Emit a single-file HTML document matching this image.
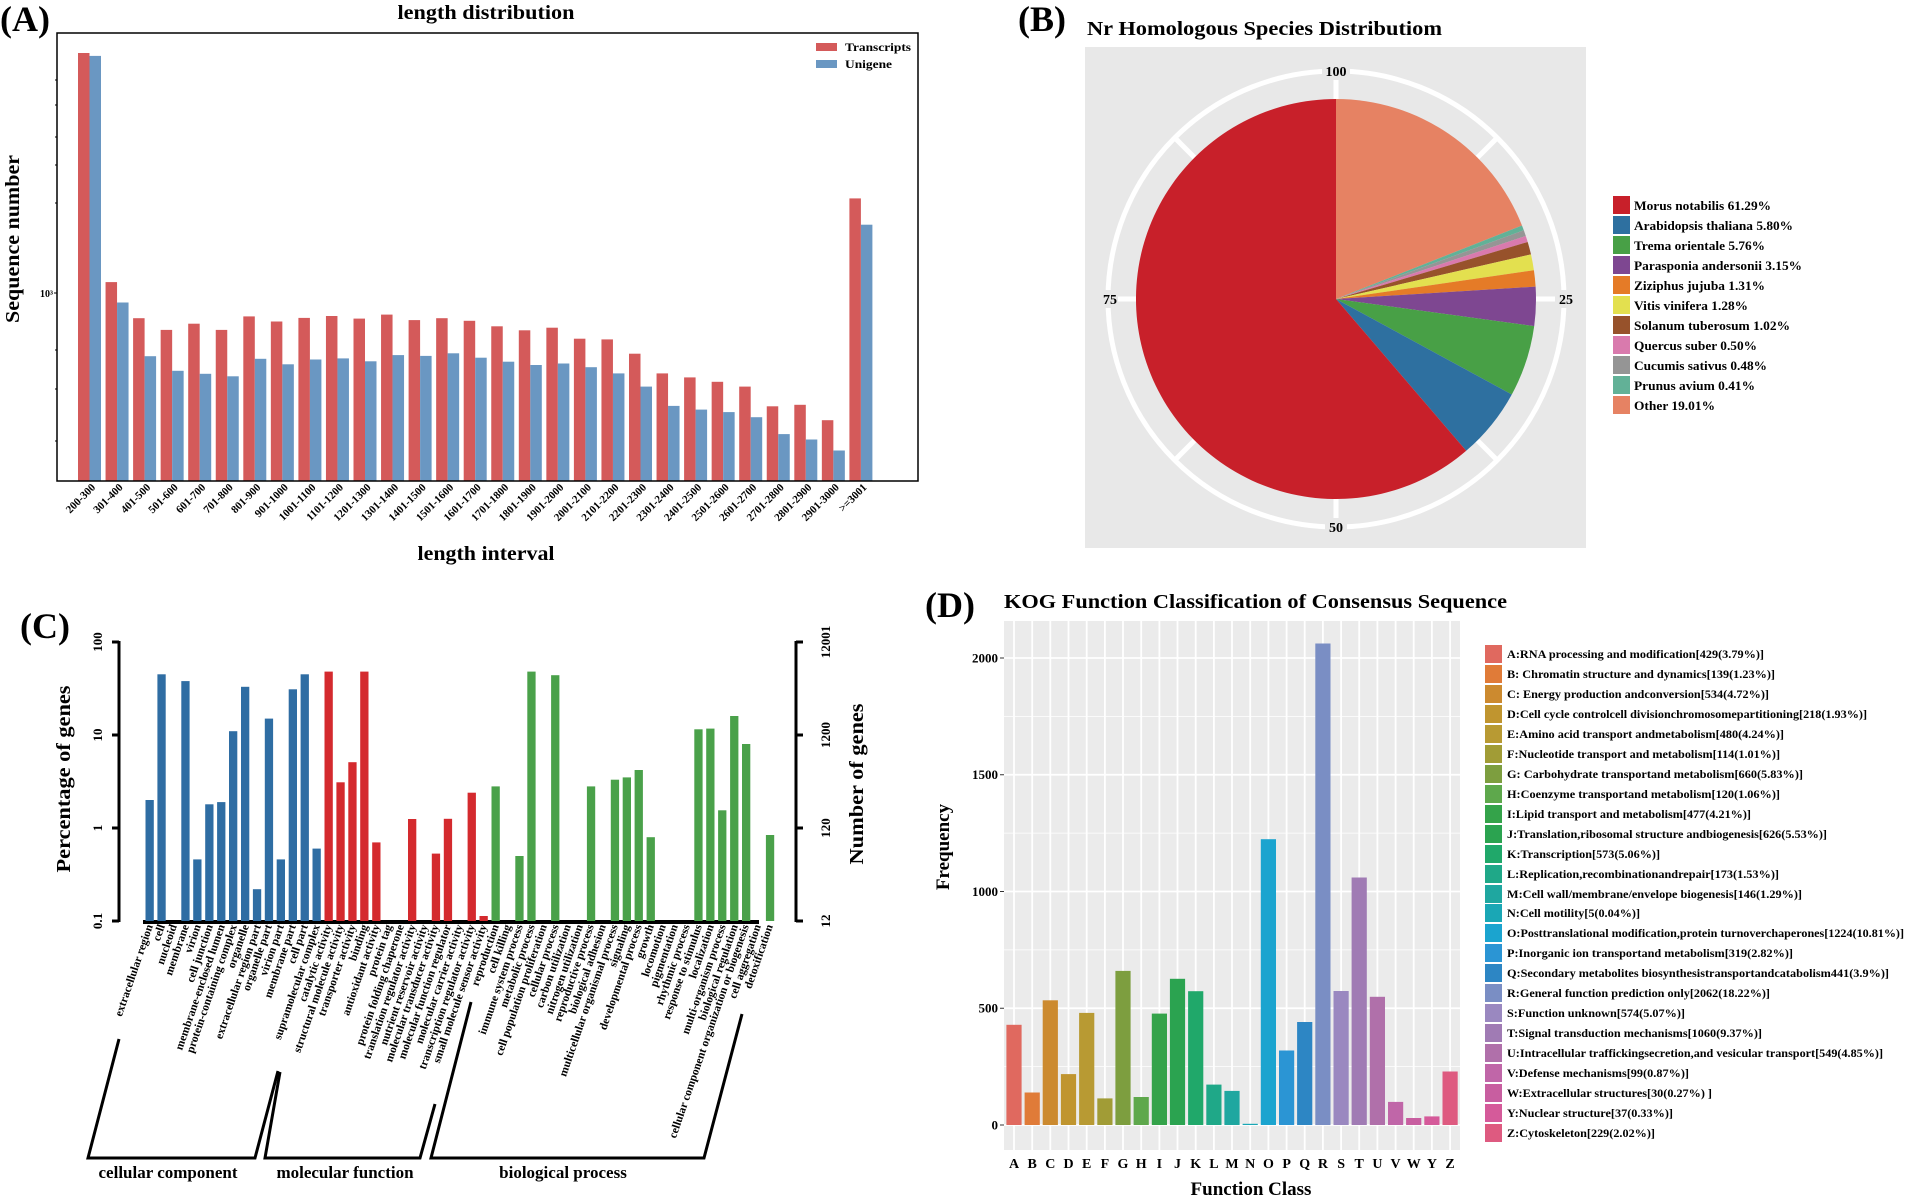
<!DOCTYPE html>
<html><head><meta charset="utf-8"><style>
html,body{margin:0;padding:0;background:#fff}
svg{display:block}
text{font-family:"Liberation Serif",serif;font-weight:bold;fill:#000}
</style></head><body>
<svg width="1905" height="1197" viewBox="0 0 1905 1197" xmlns="http://www.w3.org/2000/svg">
<!-- ================= PANEL A ================= -->
<text x="0" y="31" font-size="36">(A)</text>
<text x="486" y="19" font-size="20" text-anchor="middle" textLength="177" lengthAdjust="spacingAndGlyphs">length distribution</text>
<g>
<g transform="translate(78,0)"><rect x="0" y="53" width="11.5" height="428" fill="#d45a5a"/><rect x="11.5" y="55.9" width="11.5" height="425.1" fill="#6a97c2"/></g>
<g transform="translate(105.55,0)"><rect x="0" y="282.1" width="11.5" height="198.9" fill="#d45a5a"/><rect x="11.5" y="302.5" width="11.5" height="178.5" fill="#6a97c2"/></g>
<g transform="translate(133.1,0)"><rect x="0" y="318.2" width="11.5" height="162.8" fill="#d45a5a"/><rect x="11.5" y="356.2" width="11.5" height="124.8" fill="#6a97c2"/></g>
<g transform="translate(160.65,0)"><rect x="0" y="329.9" width="11.5" height="151.1" fill="#d45a5a"/><rect x="11.5" y="370.8" width="11.5" height="110.2" fill="#6a97c2"/></g>
<g transform="translate(188.2,0)"><rect x="0" y="323.7" width="11.5" height="157.3" fill="#d45a5a"/><rect x="11.5" y="373.8" width="11.5" height="107.2" fill="#6a97c2"/></g>
<g transform="translate(215.75,0)"><rect x="0" y="329.9" width="11.5" height="151.1" fill="#d45a5a"/><rect x="11.5" y="376.3" width="11.5" height="104.7" fill="#6a97c2"/></g>
<g transform="translate(243.3,0)"><rect x="0" y="316.4" width="11.5" height="164.6" fill="#d45a5a"/><rect x="11.5" y="358.8" width="11.5" height="122.2" fill="#6a97c2"/></g>
<g transform="translate(270.85,0)"><rect x="0" y="321.5" width="11.5" height="159.5" fill="#d45a5a"/><rect x="11.5" y="364.3" width="11.5" height="116.7" fill="#6a97c2"/></g>
<g transform="translate(298.4,0)"><rect x="0" y="317.9" width="11.5" height="163.1" fill="#d45a5a"/><rect x="11.5" y="359.5" width="11.5" height="121.5" fill="#6a97c2"/></g>
<g transform="translate(325.95,0)"><rect x="0" y="316" width="11.5" height="165" fill="#d45a5a"/><rect x="11.5" y="358.4" width="11.5" height="122.6" fill="#6a97c2"/></g>
<g transform="translate(353.5,0)"><rect x="0" y="318.6" width="11.5" height="162.4" fill="#d45a5a"/><rect x="11.5" y="361.3" width="11.5" height="119.7" fill="#6a97c2"/></g>
<g transform="translate(381.05,0)"><rect x="0" y="314.6" width="11.5" height="166.4" fill="#d45a5a"/><rect x="11.5" y="355.1" width="11.5" height="125.9" fill="#6a97c2"/></g>
<g transform="translate(408.6,0)"><rect x="0" y="320.1" width="11.5" height="160.9" fill="#d45a5a"/><rect x="11.5" y="355.9" width="11.5" height="125.1" fill="#6a97c2"/></g>
<g transform="translate(436.15,0)"><rect x="0" y="318.2" width="11.5" height="162.8" fill="#d45a5a"/><rect x="11.5" y="353.3" width="11.5" height="127.7" fill="#6a97c2"/></g>
<g transform="translate(463.7,0)"><rect x="0" y="320.8" width="11.5" height="160.2" fill="#d45a5a"/><rect x="11.5" y="357.7" width="11.5" height="123.3" fill="#6a97c2"/></g>
<g transform="translate(491.25,0)"><rect x="0" y="326.3" width="11.5" height="154.7" fill="#d45a5a"/><rect x="11.5" y="361.7" width="11.5" height="119.3" fill="#6a97c2"/></g>
<g transform="translate(518.8,0)"><rect x="0" y="330.3" width="11.5" height="150.7" fill="#d45a5a"/><rect x="11.5" y="365" width="11.5" height="116" fill="#6a97c2"/></g>
<g transform="translate(546.35,0)"><rect x="0" y="327.7" width="11.5" height="153.3" fill="#d45a5a"/><rect x="11.5" y="363.5" width="11.5" height="117.5" fill="#6a97c2"/></g>
<g transform="translate(573.9,0)"><rect x="0" y="338.7" width="11.5" height="142.3" fill="#d45a5a"/><rect x="11.5" y="367.2" width="11.5" height="113.8" fill="#6a97c2"/></g>
<g transform="translate(601.45,0)"><rect x="0" y="339.4" width="11.5" height="141.6" fill="#d45a5a"/><rect x="11.5" y="373.4" width="11.5" height="107.6" fill="#6a97c2"/></g>
<g transform="translate(629,0)"><rect x="0" y="353.7" width="11.5" height="127.3" fill="#d45a5a"/><rect x="11.5" y="386.6" width="11.5" height="94.4" fill="#6a97c2"/></g>
<g transform="translate(656.55,0)"><rect x="0" y="373.4" width="11.5" height="107.6" fill="#d45a5a"/><rect x="11.5" y="405.9" width="11.5" height="75.1" fill="#6a97c2"/></g>
<g transform="translate(684.1,0)"><rect x="0" y="377.4" width="11.5" height="103.6" fill="#d45a5a"/><rect x="11.5" y="409.6" width="11.5" height="71.4" fill="#6a97c2"/></g>
<g transform="translate(711.65,0)"><rect x="0" y="381.8" width="11.5" height="99.2" fill="#d45a5a"/><rect x="11.5" y="412.1" width="11.5" height="68.9" fill="#6a97c2"/></g>
<g transform="translate(739.2,0)"><rect x="0" y="386.6" width="11.5" height="94.4" fill="#d45a5a"/><rect x="11.5" y="417.2" width="11.5" height="63.8" fill="#6a97c2"/></g>
<g transform="translate(766.75,0)"><rect x="0" y="406.3" width="11.5" height="74.7" fill="#d45a5a"/><rect x="11.5" y="434.1" width="11.5" height="46.9" fill="#6a97c2"/></g>
<g transform="translate(794.3,0)"><rect x="0" y="404.8" width="11.5" height="76.2" fill="#d45a5a"/><rect x="11.5" y="439.5" width="11.5" height="41.5" fill="#6a97c2"/></g>
<g transform="translate(821.85,0)"><rect x="0" y="420.2" width="11.5" height="60.8" fill="#d45a5a"/><rect x="11.5" y="450.5" width="11.5" height="30.5" fill="#6a97c2"/></g>
<g transform="translate(849.4,0)"><rect x="0" y="198.4" width="11.5" height="282.6" fill="#d45a5a"/><rect x="11.5" y="224.7" width="11.5" height="256.3" fill="#6a97c2"/></g>
</g>
<rect x="57" y="33" width="861" height="448" fill="none" stroke="#000" stroke-width="1.5"/>
<g stroke="#000" stroke-width="1">
<line x1="54" y1="293" x2="57" y2="293"/><line x1="55" y1="80" x2="57" y2="80"/><line x1="55" y1="105" x2="57" y2="105"/><line x1="55" y1="137" x2="57" y2="137"/><line x1="55" y1="165" x2="57" y2="165"/><line x1="55" y1="203" x2="57" y2="203"/><line x1="55" y1="350" x2="57" y2="350"/><line x1="55" y1="389" x2="57" y2="389"/><line x1="55" y1="441" x2="57" y2="441"/>
</g>
<text x="53" y="297" font-size="10" text-anchor="end">10³</text>
<text transform="translate(19,239) rotate(-90)" font-size="20" text-anchor="middle" textLength="168" lengthAdjust="spacingAndGlyphs">Sequence number</text>
<text x="486" y="560" font-size="20" text-anchor="middle" textLength="137" lengthAdjust="spacingAndGlyphs">length interval</text>
<rect x="816" y="43" width="21" height="8" fill="#d45a5a"/><text x="845" y="51" font-size="12" textLength="66" lengthAdjust="spacingAndGlyphs">Transcripts</text>
<rect x="816" y="60" width="21" height="8" fill="#6a97c2"/><text x="845" y="68" font-size="12" textLength="47" lengthAdjust="spacingAndGlyphs">Unigene</text>
<g font-size="11">
<text transform="translate(96,488) rotate(-45)" text-anchor="end">200-300</text>
<text transform="translate(123.5,488) rotate(-45)" text-anchor="end">301-400</text>
<text transform="translate(151.1,488) rotate(-45)" text-anchor="end">401-500</text>
<text transform="translate(178.6,488) rotate(-45)" text-anchor="end">501-600</text>
<text transform="translate(206.2,488) rotate(-45)" text-anchor="end">601-700</text>
<text transform="translate(233.7,488) rotate(-45)" text-anchor="end">701-800</text>
<text transform="translate(261.3,488) rotate(-45)" text-anchor="end">801-900</text>
<text transform="translate(288.8,488) rotate(-45)" text-anchor="end">901-1000</text>
<text transform="translate(316.4,488) rotate(-45)" text-anchor="end">1001-1100</text>
<text transform="translate(343.9,488) rotate(-45)" text-anchor="end">1101-1200</text>
<text transform="translate(371.5,488) rotate(-45)" text-anchor="end">1201-1300</text>
<text transform="translate(399,488) rotate(-45)" text-anchor="end">1301-1400</text>
<text transform="translate(426.6,488) rotate(-45)" text-anchor="end">1401-1500</text>
<text transform="translate(454.1,488) rotate(-45)" text-anchor="end">1501-1600</text>
<text transform="translate(481.7,488) rotate(-45)" text-anchor="end">1601-1700</text>
<text transform="translate(509.2,488) rotate(-45)" text-anchor="end">1701-1800</text>
<text transform="translate(536.8,488) rotate(-45)" text-anchor="end">1801-1900</text>
<text transform="translate(564.3,488) rotate(-45)" text-anchor="end">1901-2000</text>
<text transform="translate(591.9,488) rotate(-45)" text-anchor="end">2001-2100</text>
<text transform="translate(619.4,488) rotate(-45)" text-anchor="end">2101-2200</text>
<text transform="translate(647,488) rotate(-45)" text-anchor="end">2201-2300</text>
<text transform="translate(674.5,488) rotate(-45)" text-anchor="end">2301-2400</text>
<text transform="translate(702.1,488) rotate(-45)" text-anchor="end">2401-2500</text>
<text transform="translate(729.6,488) rotate(-45)" text-anchor="end">2501-2600</text>
<text transform="translate(757.2,488) rotate(-45)" text-anchor="end">2601-2700</text>
<text transform="translate(784.7,488) rotate(-45)" text-anchor="end">2701-2800</text>
<text transform="translate(812.3,488) rotate(-45)" text-anchor="end">2801-2900</text>
<text transform="translate(839.8,488) rotate(-45)" text-anchor="end">2901-3000</text>
<text transform="translate(867.4,488) rotate(-45)" text-anchor="end">&gt;=3001</text>
</g>

<!-- ================= PANEL B ================= -->
<text x="1018" y="31" font-size="36">(B)</text>
<text x="1087" y="35" font-size="20" textLength="355" lengthAdjust="spacingAndGlyphs">Nr Homologous Species Distributiom</text>
<rect x="1085" y="47" width="501" height="501" fill="#e8e8e8"/>
<circle cx="1336" cy="299" r="228" fill="none" stroke="#fff" stroke-width="5"/>
<g stroke="#fff" stroke-width="5">
<line x1="1477.4" y1="157.6" x2="1497.2" y2="137.8"/><line x1="1477.4" y1="440.4" x2="1497.2" y2="460.2"/>
<line x1="1194.6" y1="440.4" x2="1174.8" y2="460.2"/><line x1="1194.6" y1="157.6" x2="1174.8" y2="137.8"/>
<line x1="1336" y1="99" x2="1336" y2="80"/><line x1="1336" y1="499" x2="1336" y2="518"/>
<line x1="1136" y1="299" x2="1118" y2="299"/><line x1="1536" y1="299" x2="1555" y2="299"/>
</g>
<g fill="#e8e8e8"><rect x="1322" y="61" width="28" height="17"/><rect x="1325" y="518" width="22" height="17"/><rect x="1100" y="290" width="18" height="18"/><rect x="1555" y="290" width="20" height="18"/></g>
<g font-size="14" text-anchor="middle">
<text x="1336" y="76">100</text><text x="1336" y="532">50</text><text x="1110" y="304">75</text><text x="1566" y="304">25</text>
</g>
<g stroke="none">
<path d="M1336,299 L1336,99 A200,200 0 0 1 1522,225.5 Z" fill="#e68263"/>
<path d="M1336,299 L1522,225.5 A200,200 0 0 1 1523.8,230.3 Z" fill="#62b197"/>
<path d="M1336,299 L1523.8,230.3 A200,200 0 0 1 1525.8,236 Z" fill="#959595"/>
<path d="M1336,299 L1525.8,236 A200,200 0 0 1 1527.7,242 Z" fill="#d97aad"/>
<path d="M1336,299 L1527.7,242 A200,200 0 0 1 1531,254.4 Z" fill="#97522b"/>
<path d="M1336,299 L1531,254.4 A200,200 0 0 1 1533.9,270.2 Z" fill="#e3e04f"/>
<path d="M1336,299 L1533.9,270.2 A200,200 0 0 1 1535.6,286.6 Z" fill="#e57b27"/>
<path d="M1336,299 L1535.6,286.6 A200,200 0 0 1 1534.2,326.1 Z" fill="#7e4791"/>
<path d="M1336,299 L1534.2,326.1 A200,200 0 0 1 1511.8,394.5 Z" fill="#48a046"/>
<path d="M1336,299 L1511.8,394.5 A200,200 0 0 1 1466.2,450.8 Z" fill="#2e70a0"/>
<path d="M1336,299 L1466.2,450.8 A200,200 0 1 1 1336,99 Z" fill="#c8202a"/>
</g>
<g font-size="13">
<rect x="1613" y="196" width="17" height="18" fill="#c8202a"/><text x="1634" y="210" textLength="137" lengthAdjust="spacingAndGlyphs">Morus notabilis 61.29%</text>
<rect x="1613" y="216" width="17" height="18" fill="#2e70a0"/><text x="1634" y="230" textLength="159" lengthAdjust="spacingAndGlyphs">Arabidopsis thaliana 5.80%</text>
<rect x="1613" y="236" width="17" height="18" fill="#48a046"/><text x="1634" y="250" textLength="131" lengthAdjust="spacingAndGlyphs">Trema orientale 5.76%</text>
<rect x="1613" y="256" width="17" height="18" fill="#7e4791"/><text x="1634" y="270" textLength="168" lengthAdjust="spacingAndGlyphs">Parasponia andersonii 3.15%</text>
<rect x="1613" y="276" width="17" height="18" fill="#e57b27"/><text x="1634" y="290" textLength="131" lengthAdjust="spacingAndGlyphs">Ziziphus jujuba 1.31%</text>
<rect x="1613" y="296" width="17" height="18" fill="#e3e04f"/><text x="1634" y="310" textLength="114" lengthAdjust="spacingAndGlyphs">Vitis vinifera 1.28%</text>
<rect x="1613" y="316" width="17" height="18" fill="#97522b"/><text x="1634" y="330" textLength="156" lengthAdjust="spacingAndGlyphs">Solanum tuberosum 1.02%</text>
<rect x="1613" y="336" width="17" height="18" fill="#d97aad"/><text x="1634" y="350" textLength="123" lengthAdjust="spacingAndGlyphs">Quercus suber 0.50%</text>
<rect x="1613" y="356" width="17" height="18" fill="#959595"/><text x="1634" y="370" textLength="133" lengthAdjust="spacingAndGlyphs">Cucumis sativus 0.48%</text>
<rect x="1613" y="376" width="17" height="18" fill="#62b197"/><text x="1634" y="390" textLength="121" lengthAdjust="spacingAndGlyphs">Prunus avium 0.41%</text>
<rect x="1613" y="396" width="17" height="18" fill="#e68263"/><text x="1634" y="410" textLength="81" lengthAdjust="spacingAndGlyphs">Other 19.01%</text>
</g>

<!-- ================= PANEL C ================= -->
<text x="20" y="638" font-size="36">(C)</text>
<g stroke="#000" stroke-width="3" fill="none">
<line x1="119" y1="641" x2="119" y2="922"/>
<line x1="112" y1="642" x2="119" y2="642"/><line x1="112" y1="735" x2="119" y2="735"/><line x1="112" y1="828" x2="119" y2="828"/><line x1="112" y1="921" x2="119" y2="921"/>
<line x1="796" y1="641" x2="796" y2="922"/>
<line x1="796" y1="642" x2="803" y2="642"/><line x1="796" y1="735" x2="803" y2="735"/><line x1="796" y1="828" x2="803" y2="828"/><line x1="796" y1="921" x2="803" y2="921"/>
<line x1="143" y1="922" x2="759" y2="922" stroke-width="4"/>
</g>
<g font-size="13" text-anchor="middle">
<text transform="translate(102,642) rotate(-90)">100</text><text transform="translate(102,735) rotate(-90)">10</text><text transform="translate(102,828) rotate(-90)">1</text><text transform="translate(102,921) rotate(-90)">0.1</text>
<text transform="translate(830,642) rotate(-90)">12001</text><text transform="translate(830,735) rotate(-90)">1200</text><text transform="translate(830,828) rotate(-90)">120</text><text transform="translate(830,921) rotate(-90)">12</text>
</g>
<text transform="translate(70,779) rotate(-90)" font-size="20" text-anchor="middle" textLength="187" lengthAdjust="spacingAndGlyphs">Percentage of genes</text>
<text transform="translate(863,784) rotate(-90)" font-size="20" text-anchor="middle" textLength="161" lengthAdjust="spacingAndGlyphs">Number of genes</text>
<g fill="#2f6da3">
<rect x="145.5" y="800" width="8.3" height="121"/><rect x="157.4" y="674.3" width="8.3" height="246.7"/><rect x="181.3" y="681.1" width="8.3" height="239.9"/><rect x="193.2" y="859.4" width="8.3" height="61.6"/><rect x="205.2" y="804.3" width="8.3" height="116.7"/><rect x="217.1" y="802.1" width="8.3" height="118.9"/><rect x="229" y="731.2" width="8.3" height="189.8"/><rect x="241" y="686.8" width="8.3" height="234.2"/><rect x="252.9" y="889.2" width="8.3" height="31.8"/><rect x="264.8" y="718.6" width="8.3" height="202.4"/><rect x="276.7" y="859.4" width="8.3" height="61.6"/><rect x="288.7" y="689.3" width="8.3" height="231.7"/><rect x="300.6" y="674.3" width="8.3" height="246.7"/><rect x="312.5" y="848.6" width="8.3" height="72.4"/>
</g>
<g fill="#d42a2e">
<rect x="324.5" y="671.6" width="8.3" height="249.4"/><rect x="336.4" y="782.3" width="8.3" height="138.7"/><rect x="348.3" y="762.2" width="8.3" height="158.8"/><rect x="360.2" y="671.6" width="8.3" height="249.4"/><rect x="372.2" y="842.4" width="8.3" height="78.6"/><rect x="408" y="819" width="8.3" height="102"/><rect x="431.8" y="853.6" width="8.3" height="67.4"/><rect x="443.8" y="818.8" width="8.3" height="102.2"/><rect x="467.6" y="792.7" width="8.3" height="128.3"/><rect x="479.5" y="916" width="8.3" height="5"/>
</g>
<g fill="#4aa14a">
<rect x="491.5" y="786.4" width="8.3" height="134.6"/><rect x="515.3" y="856" width="8.3" height="65"/><rect x="527.3" y="671.6" width="8.3" height="249.4"/><rect x="551.1" y="675.2" width="8.3" height="245.8"/><rect x="586.9" y="786.4" width="8.3" height="134.6"/><rect x="610.8" y="779.7" width="8.3" height="141.3"/><rect x="622.7" y="777.4" width="8.3" height="143.6"/><rect x="634.6" y="770" width="8.3" height="151"/><rect x="646.6" y="837.2" width="8.3" height="83.8"/><rect x="694.3" y="729.3" width="8.3" height="191.7"/><rect x="706.2" y="728.6" width="8.3" height="192.4"/><rect x="718.1" y="810.3" width="8.3" height="110.7"/><rect x="730.1" y="716" width="8.3" height="205"/><rect x="742" y="744" width="8.3" height="177"/><rect x="765.9" y="835" width="8.3" height="86"/>
</g>
<g font-size="11.5">
<text transform="translate(153,926) rotate(-71)" text-anchor="end">extracellular region</text>
<text transform="translate(165,926) rotate(-71)" text-anchor="end">cell</text>
<text transform="translate(177,926) rotate(-71)" text-anchor="end">nucleoid</text>
<text transform="translate(189,926) rotate(-71)" text-anchor="end">membrane</text>
<text transform="translate(201,926) rotate(-71)" text-anchor="end">virion</text>
<text transform="translate(213,926) rotate(-71)" text-anchor="end">cell junction</text>
<text transform="translate(225,926) rotate(-71)" text-anchor="end">membrane-enclosed lumen</text>
<text transform="translate(237,926) rotate(-71)" text-anchor="end">protein-containing complex</text>
<text transform="translate(249,926) rotate(-71)" text-anchor="end">organelle</text>
<text transform="translate(261,926) rotate(-71)" text-anchor="end">extracellular region part</text>
<text transform="translate(272,926) rotate(-71)" text-anchor="end">organelle part</text>
<text transform="translate(284,926) rotate(-71)" text-anchor="end">virion part</text>
<text transform="translate(296,926) rotate(-71)" text-anchor="end">membrane part</text>
<text transform="translate(308,926) rotate(-71)" text-anchor="end">cell part</text>
<text transform="translate(320,926) rotate(-71)" text-anchor="end">supramolecular complex</text>
<text transform="translate(332,926) rotate(-71)" text-anchor="end">catalytic activity</text>
<text transform="translate(344,926) rotate(-71)" text-anchor="end">structural molecule activity</text>
<text transform="translate(356,926) rotate(-71)" text-anchor="end">transporter activity</text>
<text transform="translate(368,926) rotate(-71)" text-anchor="end">binding</text>
<text transform="translate(380,926) rotate(-71)" text-anchor="end">antioxidant activity</text>
<text transform="translate(392,926) rotate(-71)" text-anchor="end">protein tag</text>
<text transform="translate(404,926) rotate(-71)" text-anchor="end">protein folding chaperone</text>
<text transform="translate(416,926) rotate(-71)" text-anchor="end">translation regulator activity</text>
<text transform="translate(428,926) rotate(-71)" text-anchor="end">nutrient reservoir activity</text>
<text transform="translate(439,926) rotate(-71)" text-anchor="end">molecular transducer activity</text>
<text transform="translate(451,926) rotate(-71)" text-anchor="end">molecular function regulator</text>
<text transform="translate(463,926) rotate(-71)" text-anchor="end">molecular carrier activity</text>
<text transform="translate(475,926) rotate(-71)" text-anchor="end">transcription regulator activity</text>
<text transform="translate(487,926) rotate(-71)" text-anchor="end">small molecule sensor activity</text>
<text transform="translate(499,926) rotate(-71)" text-anchor="end">reproduction</text>
<text transform="translate(511,926) rotate(-71)" text-anchor="end">cell killing</text>
<text transform="translate(523,926) rotate(-71)" text-anchor="end">immune system process</text>
<text transform="translate(535,926) rotate(-71)" text-anchor="end">metabolic process</text>
<text transform="translate(547,926) rotate(-71)" text-anchor="end">cell population proliferation</text>
<text transform="translate(559,926) rotate(-71)" text-anchor="end">cellular process</text>
<text transform="translate(571,926) rotate(-71)" text-anchor="end">carbon utilization</text>
<text transform="translate(583,926) rotate(-71)" text-anchor="end">nitrogen utilization</text>
<text transform="translate(594,926) rotate(-71)" text-anchor="end">reproductive process</text>
<text transform="translate(606,926) rotate(-71)" text-anchor="end">biological adhesion</text>
<text transform="translate(618,926) rotate(-71)" text-anchor="end">multicellular organismal process</text>
<text transform="translate(630,926) rotate(-71)" text-anchor="end">signaling</text>
<text transform="translate(642,926) rotate(-71)" text-anchor="end">developmental process</text>
<text transform="translate(654,926) rotate(-71)" text-anchor="end">growth</text>
<text transform="translate(666,926) rotate(-71)" text-anchor="end">locomotion</text>
<text transform="translate(678,926) rotate(-71)" text-anchor="end">pigmentation</text>
<text transform="translate(690,926) rotate(-71)" text-anchor="end">rhythmic process</text>
<text transform="translate(702,926) rotate(-71)" text-anchor="end">response to stimulus</text>
<text transform="translate(714,926) rotate(-71)" text-anchor="end">localization</text>
<text transform="translate(726,926) rotate(-71)" text-anchor="end">multi-organism process</text>
<text transform="translate(738,926) rotate(-71)" text-anchor="end">biological regulation</text>
<text transform="translate(749,926) rotate(-71)" text-anchor="end">cellular component organization or biogenesis</text>
<text transform="translate(761,926) rotate(-71)" text-anchor="end">cell aggregation</text>
<text transform="translate(773,926) rotate(-71)" text-anchor="end">detoxification</text>
</g>
<g stroke="#000" stroke-width="3" fill="none">
<polyline points="119,1039 88,1158 255,1158 278,1071"/>
<polyline points="280,1072 265,1158 420,1158 435,1104"/>
<polyline points="471,1002 431,1158 704,1158 742,1014"/>
</g>
<g font-size="17" text-anchor="middle">
<text x="168" y="1178">cellular component</text>
<text x="345" y="1178">molecular function</text>
<text x="563" y="1178">biological process</text>
</g>

<!-- ================= PANEL D ================= -->
<text x="925" y="617" font-size="36">(D)</text>
<text x="1004" y="608" font-size="20" textLength="503" lengthAdjust="spacingAndGlyphs">KOG Function Classification of Consensus Sequence</text>
<rect x="1004" y="621" width="456" height="529" fill="#ebebeb"/>
<g stroke="#fff" stroke-width="0.8">
<line x1="1004" y1="1066.6" x2="1460" y2="1066.6"/><line x1="1004" y1="949.9" x2="1460" y2="949.9"/><line x1="1004" y1="833.1" x2="1460" y2="833.1"/><line x1="1004" y1="716.4" x2="1460" y2="716.4"/>
</g>
<g stroke="#fff" stroke-width="1.8">
<line x1="1004" y1="1125" x2="1460" y2="1125"/><line x1="1004" y1="1008.25" x2="1460" y2="1008.25"/><line x1="1004" y1="891.5" x2="1460" y2="891.5"/><line x1="1004" y1="774.75" x2="1460" y2="774.75"/><line x1="1004" y1="658" x2="1460" y2="658"/>
<line x1="1014" y1="621" x2="1014" y2="1150"/><line x1="1032.2" y1="621" x2="1032.2" y2="1150"/><line x1="1050.3" y1="621" x2="1050.3" y2="1150"/><line x1="1068.5" y1="621" x2="1068.5" y2="1150"/><line x1="1086.7" y1="621" x2="1086.7" y2="1150"/><line x1="1104.9" y1="621" x2="1104.9" y2="1150"/><line x1="1123" y1="621" x2="1123" y2="1150"/><line x1="1141.2" y1="621" x2="1141.2" y2="1150"/><line x1="1159.4" y1="621" x2="1159.4" y2="1150"/><line x1="1177.5" y1="621" x2="1177.5" y2="1150"/><line x1="1195.7" y1="621" x2="1195.7" y2="1150"/><line x1="1213.9" y1="621" x2="1213.9" y2="1150"/><line x1="1232" y1="621" x2="1232" y2="1150"/><line x1="1250.2" y1="621" x2="1250.2" y2="1150"/><line x1="1268.4" y1="621" x2="1268.4" y2="1150"/><line x1="1286.6" y1="621" x2="1286.6" y2="1150"/><line x1="1304.7" y1="621" x2="1304.7" y2="1150"/><line x1="1322.9" y1="621" x2="1322.9" y2="1150"/><line x1="1341.1" y1="621" x2="1341.1" y2="1150"/><line x1="1359.2" y1="621" x2="1359.2" y2="1150"/><line x1="1377.4" y1="621" x2="1377.4" y2="1150"/><line x1="1395.6" y1="621" x2="1395.6" y2="1150"/><line x1="1413.7" y1="621" x2="1413.7" y2="1150"/><line x1="1431.9" y1="621" x2="1431.9" y2="1150"/><line x1="1450.1" y1="621" x2="1450.1" y2="1150"/>
</g>
<g>
<rect x="1006.4" y="1024.8" width="15.2" height="100.2" fill="#e0695f"/>
<rect x="1024.6" y="1092.5" width="15.2" height="32.5" fill="#e07b38"/>
<rect x="1042.7" y="1000.3" width="15.2" height="124.7" fill="#cc8a2f"/>
<rect x="1060.9" y="1074.1" width="15.2" height="50.9" fill="#c0952f"/>
<rect x="1079.1" y="1012.9" width="15.2" height="112.1" fill="#b89a33"/>
<rect x="1097.3" y="1098.4" width="15.2" height="26.6" fill="#a19c36"/>
<rect x="1115.4" y="970.9" width="15.2" height="154.1" fill="#7d9e3f"/>
<rect x="1133.6" y="1097" width="15.2" height="28" fill="#5ea84c"/>
<rect x="1151.8" y="1013.6" width="15.2" height="111.4" fill="#34a34a"/>
<rect x="1169.9" y="978.8" width="15.2" height="146.2" fill="#2ba350"/>
<rect x="1188.1" y="991.2" width="15.2" height="133.8" fill="#20a86a"/>
<rect x="1206.3" y="1084.6" width="15.2" height="40.4" fill="#1fa888"/>
<rect x="1224.4" y="1090.9" width="15.2" height="34.1" fill="#1fa7a0"/>
<rect x="1242.6" y="1123.8" width="15.2" height="1.2" fill="#1aa7b5"/>
<rect x="1260.8" y="839.2" width="15.2" height="285.8" fill="#1ba4cf"/>
<rect x="1279" y="1050.5" width="15.2" height="74.5" fill="#2b95d4"/>
<rect x="1297.1" y="1022" width="15.2" height="103" fill="#2d86c4"/>
<rect x="1315.3" y="643.5" width="15.2" height="481.5" fill="#7a8ec4"/>
<rect x="1333.5" y="991" width="15.2" height="134" fill="#9a88c0"/>
<rect x="1351.6" y="877.5" width="15.2" height="247.5" fill="#a07bb4"/>
<rect x="1369.8" y="996.8" width="15.2" height="128.2" fill="#b070aa"/>
<rect x="1388" y="1101.9" width="15.2" height="23.1" fill="#c066a8"/>
<rect x="1406.1" y="1118" width="15.2" height="7" fill="#c85ea0"/>
<rect x="1424.3" y="1116.4" width="15.2" height="8.6" fill="#d55a9a"/>
<rect x="1442.5" y="1071.5" width="15.2" height="53.5" fill="#de5a80"/>
</g>
<g stroke="#333" stroke-width="1">
<line x1="1000" y1="1125" x2="1004" y2="1125"/><line x1="1000" y1="1008.25" x2="1004" y2="1008.25"/><line x1="1000" y1="891.5" x2="1004" y2="891.5"/><line x1="1000" y1="774.75" x2="1004" y2="774.75"/><line x1="1000" y1="658" x2="1004" y2="658"/>
</g>
<g font-size="13" text-anchor="end">
<text x="998" y="1129.5">0</text><text x="998" y="1012.7">500</text><text x="998" y="896">1000</text><text x="998" y="779.2">1500</text><text x="998" y="662.5">2000</text>
</g>
<g font-size="14" text-anchor="middle">
<text x="1014" y="1168">A</text><text x="1032.2" y="1168">B</text><text x="1050.3" y="1168">C</text><text x="1068.5" y="1168">D</text><text x="1086.7" y="1168">E</text><text x="1104.9" y="1168">F</text><text x="1123" y="1168">G</text><text x="1141.2" y="1168">H</text><text x="1159.4" y="1168">I</text><text x="1177.5" y="1168">J</text><text x="1195.7" y="1168">K</text><text x="1213.9" y="1168">L</text><text x="1232" y="1168">M</text><text x="1250.2" y="1168">N</text><text x="1268.4" y="1168">O</text><text x="1286.6" y="1168">P</text><text x="1304.7" y="1168">Q</text><text x="1322.9" y="1168">R</text><text x="1341.1" y="1168">S</text><text x="1359.2" y="1168">T</text><text x="1377.4" y="1168">U</text><text x="1395.6" y="1168">V</text><text x="1413.7" y="1168">W</text><text x="1431.9" y="1168">Y</text><text x="1450.1" y="1168">Z</text>
</g>
<text x="1251" y="1195" font-size="19" text-anchor="middle">Function Class</text>
<text transform="translate(949,847) rotate(-90)" font-size="19" text-anchor="middle">Frequency</text>
<g font-size="12">
<rect x="1485" y="645" width="17" height="18" fill="#e0695f"/><text x="1507" y="658" textLength="257" lengthAdjust="spacingAndGlyphs">A:RNA processing and modification[429(3.79%)]</text>
<rect x="1485" y="665" width="17" height="18" fill="#e07b38"/><text x="1507" y="678" textLength="268" lengthAdjust="spacingAndGlyphs">B: Chromatin structure and dynamics[139(1.23%)]</text>
<rect x="1485" y="685" width="17" height="18" fill="#cc8a2f"/><text x="1507" y="698" textLength="262" lengthAdjust="spacingAndGlyphs">C: Energy production andconversion[534(4.72%)]</text>
<rect x="1485" y="705" width="17" height="18" fill="#c0952f"/><text x="1507" y="718" textLength="360" lengthAdjust="spacingAndGlyphs">D:Cell cycle controlcell divisionchromosomepartitioning[218(1.93%)]</text>
<rect x="1485" y="725" width="17" height="18" fill="#b89a33"/><text x="1507" y="738" textLength="277" lengthAdjust="spacingAndGlyphs">E:Amino acid transport andmetabolism[480(4.24%)]</text>
<rect x="1485" y="745" width="17" height="18" fill="#a19c36"/><text x="1507" y="758" textLength="273" lengthAdjust="spacingAndGlyphs">F:Nucleotide transport and metabolism[114(1.01%)]</text>
<rect x="1485" y="765" width="17" height="18" fill="#7d9e3f"/><text x="1507" y="778" textLength="296" lengthAdjust="spacingAndGlyphs">G: Carbohydrate transportand metabolism[660(5.83%)]</text>
<rect x="1485" y="785" width="17" height="18" fill="#5ea84c"/><text x="1507" y="798" textLength="273" lengthAdjust="spacingAndGlyphs">H:Coenzyme transportand metabolism[120(1.06%)]</text>
<rect x="1485" y="805" width="17" height="18" fill="#34a34a"/><text x="1507" y="818" textLength="244" lengthAdjust="spacingAndGlyphs">I:Lipid transport and metabolism[477(4.21%)]</text>
<rect x="1485" y="825" width="17" height="18" fill="#2ba350"/><text x="1507" y="838" textLength="320" lengthAdjust="spacingAndGlyphs">J:Translation,ribosomal structure andbiogenesis[626(5.53%)]</text>
<rect x="1485" y="845" width="17" height="18" fill="#20a86a"/><text x="1507" y="858" textLength="153" lengthAdjust="spacingAndGlyphs">K:Transcription[573(5.06%)]</text>
<rect x="1485" y="865" width="17" height="18" fill="#1fa888"/><text x="1507" y="878" textLength="272" lengthAdjust="spacingAndGlyphs">L:Replication,recombinationandrepair[173(1.53%)]</text>
<rect x="1485" y="885" width="17" height="18" fill="#1fa7a0"/><text x="1507" y="898" textLength="295" lengthAdjust="spacingAndGlyphs">M:Cell wall/membrane/envelope biogenesis[146(1.29%)]</text>
<rect x="1485" y="904" width="17" height="18" fill="#1aa7b5"/><text x="1507" y="917" textLength="133" lengthAdjust="spacingAndGlyphs">N:Cell motility[5(0.04%)]</text>
<rect x="1485" y="924" width="17" height="18" fill="#1ba4cf"/><text x="1507" y="937" textLength="397" lengthAdjust="spacingAndGlyphs">O:Posttranslational modification,protein turnoverchaperones[1224(10.81%)]</text>
<rect x="1485" y="944" width="17" height="18" fill="#2b95d4"/><text x="1507" y="957" textLength="286" lengthAdjust="spacingAndGlyphs">P:Inorganic ion transportand metabolism[319(2.82%)]</text>
<rect x="1485" y="964" width="17" height="18" fill="#2d86c4"/><text x="1507" y="977" textLength="382" lengthAdjust="spacingAndGlyphs">Q:Secondary metabolites biosynthesistransportandcatabolism441(3.9%)]</text>
<rect x="1485" y="984" width="17" height="18" fill="#7a8ec4"/><text x="1507" y="997" textLength="263" lengthAdjust="spacingAndGlyphs">R:General function prediction only[2062(18.22%)]</text>
<rect x="1485" y="1004" width="17" height="18" fill="#9a88c0"/><text x="1507" y="1017" textLength="178" lengthAdjust="spacingAndGlyphs">S:Function unknown[574(5.07%)]</text>
<rect x="1485" y="1024" width="17" height="18" fill="#a07bb4"/><text x="1507" y="1037" textLength="255" lengthAdjust="spacingAndGlyphs">T:Signal transduction mechanisms[1060(9.37%)]</text>
<rect x="1485" y="1044" width="17" height="18" fill="#b070aa"/><text x="1507" y="1057" textLength="376" lengthAdjust="spacingAndGlyphs">U:Intracellular traffickingsecretion,and vesicular transport[549(4.85%)]</text>
<rect x="1485" y="1064" width="17" height="18" fill="#c066a8"/><text x="1507" y="1077" textLength="182" lengthAdjust="spacingAndGlyphs">V:Defense mechanisms[99(0.87%)]</text>
<rect x="1485" y="1084" width="17" height="18" fill="#c85ea0"/><text x="1507" y="1097" textLength="205" lengthAdjust="spacingAndGlyphs">W:Extracellular structures[30(0.27%) ]</text>
<rect x="1485" y="1104" width="17" height="18" fill="#d55a9a"/><text x="1507" y="1117" textLength="166" lengthAdjust="spacingAndGlyphs">Y:Nuclear structure[37(0.33%)]</text>
<rect x="1485" y="1124" width="17" height="18" fill="#de5a80"/><text x="1507" y="1137" textLength="148" lengthAdjust="spacingAndGlyphs">Z:Cytoskeleton[229(2.02%)]</text>
</g>
</svg>
</body></html>
